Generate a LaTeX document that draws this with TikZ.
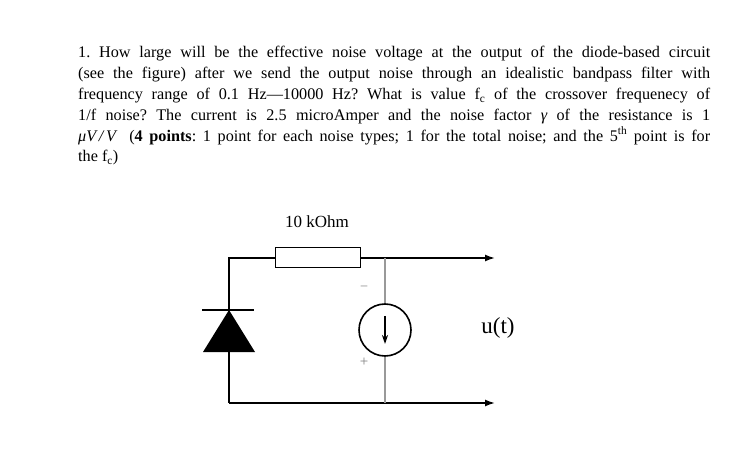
\documentclass[tikz,border=0pt]{standalone}
\usepackage{fontspec}
\setmainfont{Liberation Serif}
\usetikzlibrary{arrows.meta}
\frenchspacing
\begin{document}
\begin{tikzpicture}[x=1pt,y=1pt,
  wire/.style={line width=1.6pt},
  gwire/.style={line width=1.6pt,color=gray!80},
  txt/.style={anchor=base west,inner sep=0,font=\fontsize{16.2}{18}\selectfont},
  arr/.style={-{Latex[length=10pt,width=7pt]}}]
\useasboundingbox (0,0) rectangle (750,453);
\def\L#1{\makebox[632pt][s]{#1}}
\node[txt] (l1) at (78,395) {\L{1. How large will be the effective noise voltage at the output of the diode-based circuit}};
\node[txt] (l2) at (78,374.2) {\L{(see the figure) after we send the output noise through an idealistic bandpass filter with}};
\node[txt] (l3) at (78,353.4) {\L{frequency range of 0.1 Hz—10000 Hz? What is value f\textsubscript{c} of the crossover frequenecy of}};
\node[txt] (l4) at (78,332.6) {\L{1/f noise? The current is 2.5 microAmper and the noise factor {\itshape γ} of the resistance is 1}};
\node[txt] (l5) at (78,311.8) {\L{{\itshape μV\,/\,V}\ \ (\textbf{4 points}: 1 point for each noise types; 1 for the total noise; and the 5\textsuperscript{th} point is for}};
\node[txt] (l6) at (78,291) {the f\textsubscript{c})};
% circuit
\coordinate (tl) at (229,195);
\coordinate (bl) at (229,50);
\coordinate (tr) at (495,195);
\coordinate (br) at (495,50);
\coordinate (jt) at (385,195);
\coordinate (jb) at (385,50);
\node[draw,line width=1pt,minimum width=85pt,minimum height=20pt,inner sep=0] (R) at (317.5,195) {};
\node[font=\fontsize{17}{19}\selectfont] (rl) at (317,231) {10 kOhm};
\draw[wire] (R.west) -- (tl) -- (229,143);
\draw[wire,arr] (R.east) -- (tr);
\draw[wire,arr] (bl) -- (br);
\draw[wire] (229,101) -- (bl);
% diode
\fill (203,101) -- (255,101) -- (229,143) -- cycle;
\draw[line width=2pt] (202,143) -- (254,143);
% current source
\node[draw,circle,line width=1.6pt,minimum size=52pt,inner sep=0] (I) at (385,123) {};
\draw[gwire] (jt) -- (I.north);
\draw[gwire] (I.south) -- (jb);
\draw[line width=1.4pt,-{Stealth[length=9pt,width=6pt]}] (385,137) -- (385,109);
\node[font=\fontsize{13}{14}\selectfont,color=gray] (mi) at (364,165) {--};
\node[font=\fontsize{15}{16}\selectfont,color=gray] (pl) at (364,91) {+};
\node[font=\fontsize{23}{26}\selectfont] (ut) at (498,125) {u(t)};
\end{tikzpicture}
\end{document}
